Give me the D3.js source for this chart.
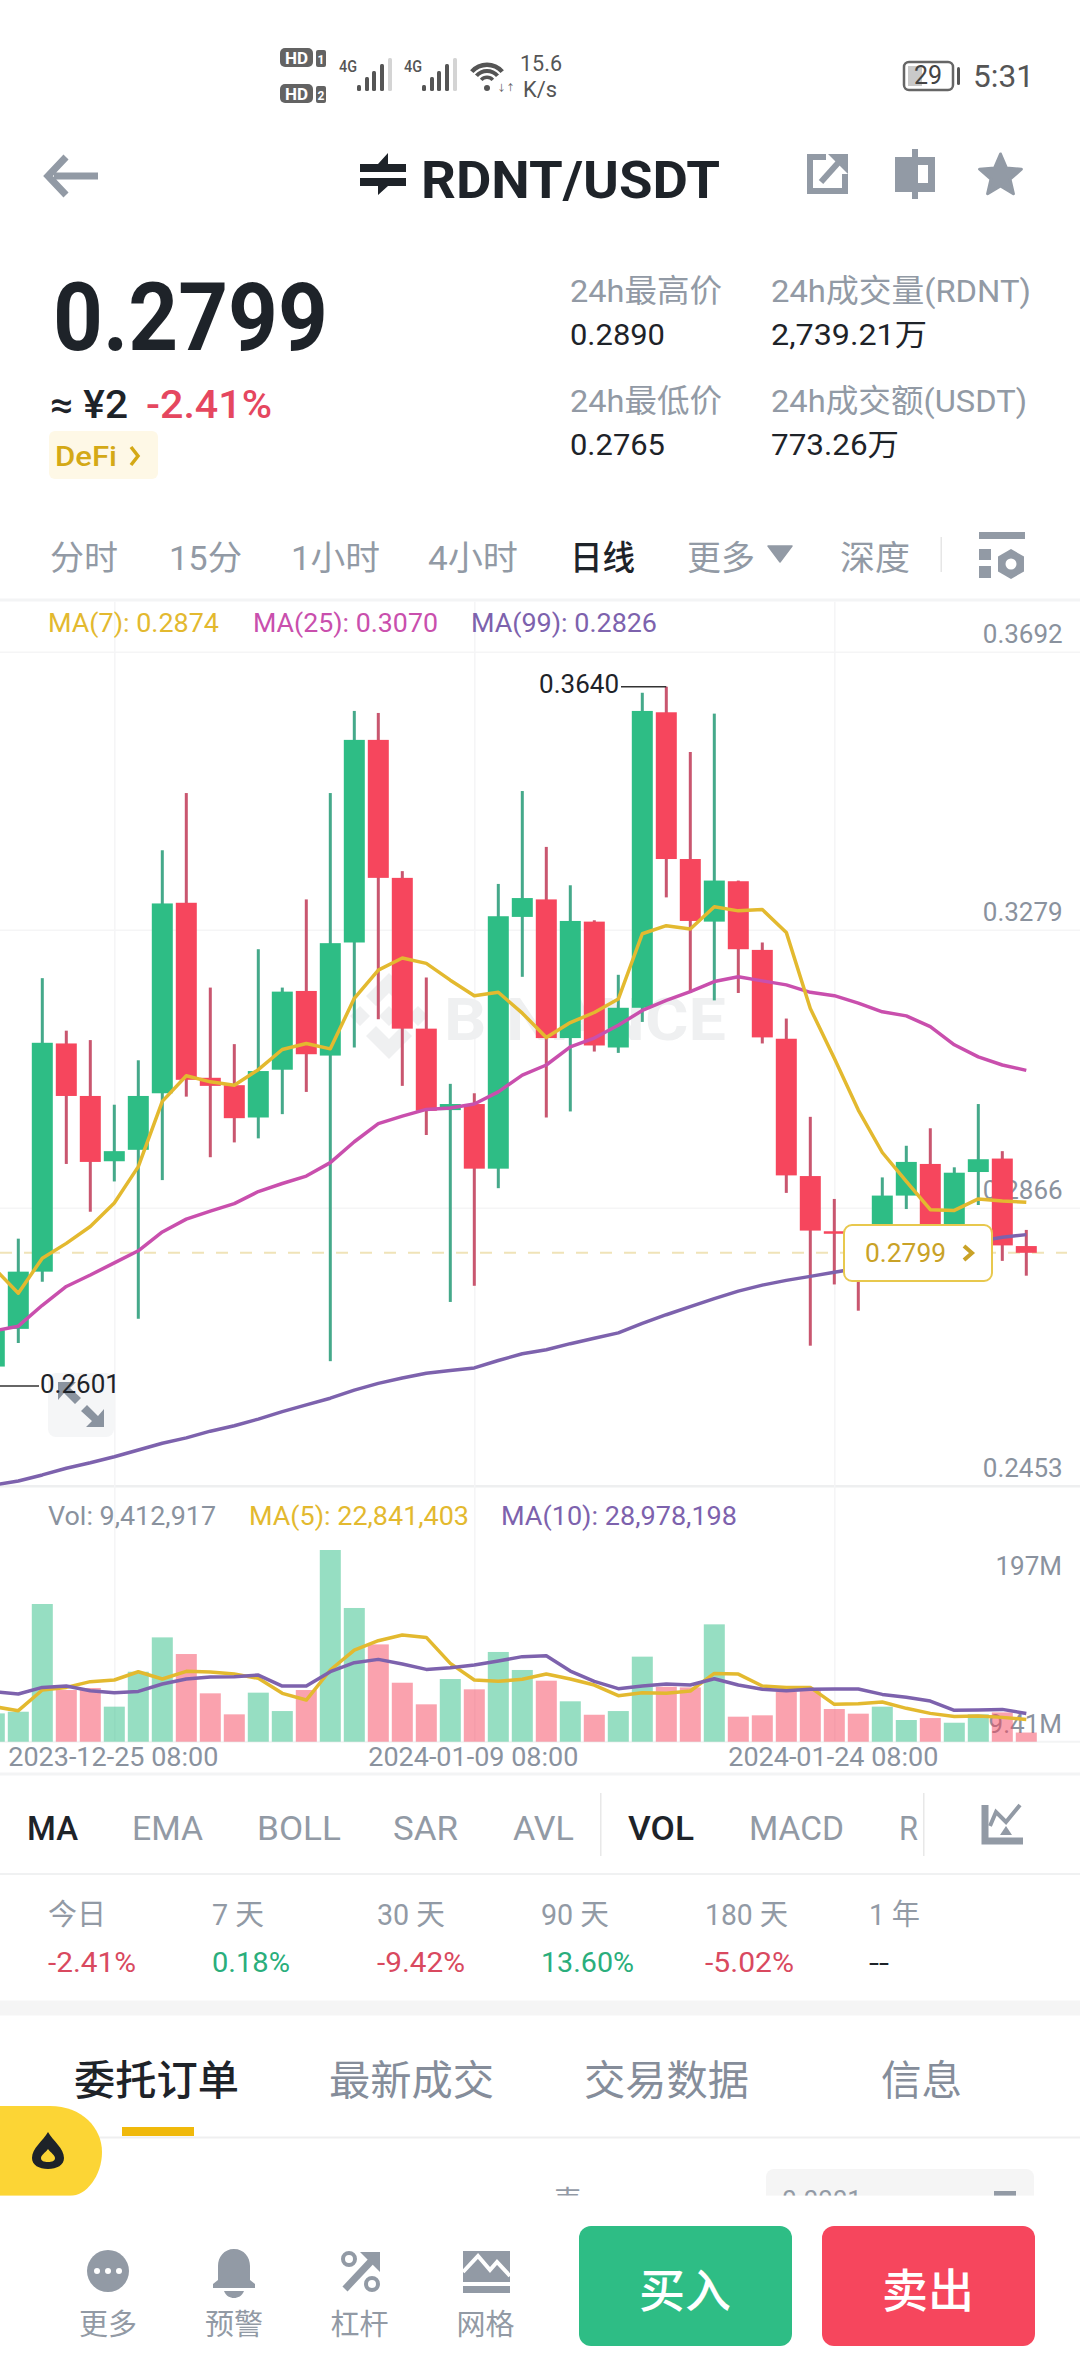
<!DOCTYPE html>
<html>
<head>
<meta charset="utf-8">
<style>
  html, body { margin: 0; padding: 0; background: #fff; }
  svg { display: block; }
  text { font-family: Roboto, "Noto Sans CJK SC", sans-serif; }
</style>
<script src="https://cdn.jsdelivr.net/npm/d3@7"></script>
</head>
<body>
<script>
// daily candles
const candleOpen = [0.2630,0.2686,0.2771,0.3110,0.3032,0.2935,0.2952,0.3036,0.3319,0.3059,0.3048,0.3000,0.3071,0.3188,0.3092,0.3260,0.3561,0.3356,0.3132,0.3011,0.3020,0.2924,0.3298,0.3324,0.3118,0.3291,0.3104,0.3163,0.3602,0.3384,0.3291,0.3351,0.3249,0.3117,0.2913,0.2831,0.2829,0.2774,0.2884,0.2931,0.2811,0.2919,0.2939,0.2809];
const candleHigh = [0.2700,0.2820,0.3207,0.3129,0.3115,0.3019,0.3085,0.3397,0.3482,0.3193,0.3109,0.3250,0.3193,0.3324,0.3482,0.3604,0.3601,0.3366,0.3208,0.3050,0.3036,0.3347,0.3485,0.3402,0.3345,0.3293,0.3212,0.3631,0.3640,0.3543,0.3600,0.3352,0.3260,0.3147,0.3001,0.2879,0.2830,0.2911,0.2958,0.2984,0.2926,0.3020,0.2950,0.2833];
const candleLow = [0.2601,0.2665,0.2756,0.2931,0.2860,0.2905,0.2701,0.2907,0.3031,0.2941,0.2963,0.2969,0.3005,0.3038,0.2638,0.3104,0.3146,0.3047,0.2974,0.2726,0.2750,0.2895,0.3209,0.3000,0.3009,0.3098,0.3096,0.3142,0.3327,0.3185,0.3174,0.3185,0.3110,0.2888,0.2661,0.2752,0.2713,0.2772,0.2864,0.2803,0.2803,0.2870,0.2787,0.2765];
const candleClose = [0.2684,0.2771,0.3111,0.3032,0.2934,0.2950,0.3032,0.3318,0.3056,0.3047,0.2999,0.3069,0.3187,0.3094,0.3259,0.3561,0.3356,0.3132,0.3010,0.3020,0.2924,0.3299,0.3326,0.3118,0.3292,0.3107,0.3163,0.3604,0.3384,0.3292,0.3352,0.3250,0.3119,0.2914,0.2832,0.2828,0.2774,0.2884,0.2934,0.2811,0.2918,0.2938,0.2810,0.2799];

const ma7 = [0.2776,0.2739,0.2791,0.2813,0.2838,0.2873,0.2927,0.3024,0.3062,0.3053,0.3048,0.3071,0.3101,0.3110,0.3102,0.3177,0.3219,0.3237,0.3229,0.3204,0.3181,0.3186,0.3155,0.3119,0.3141,0.3156,0.3176,0.3273,0.3285,0.3280,0.3313,0.3307,0.3309,0.3275,0.3162,0.3088,0.3011,0.2948,0.2905,0.2863,0.2862,0.2879,0.2876,0.2874];
const ma25 = [0.2683,0.2690,0.2721,0.2749,0.2766,0.2784,0.2802,0.2830,0.2849,0.2861,0.2872,0.2890,0.2902,0.2913,0.2933,0.2964,0.2991,0.3002,0.3012,0.3014,0.3020,0.3038,0.3063,0.3078,0.3105,0.3118,0.3137,0.3159,0.3174,0.3187,0.3202,0.3209,0.3203,0.3197,0.3186,0.3181,0.3170,0.3157,0.3151,0.3135,0.3108,0.3090,0.3078,0.3070];
const ma99 = [0.2454,0.2460,0.2469,0.2479,0.2487,0.2496,0.2506,0.2516,0.2524,0.2534,0.2542,0.2552,0.2563,0.2573,0.2583,0.2595,0.2605,0.2613,0.2620,0.2624,0.2628,0.2639,0.2649,0.2655,0.2664,0.2672,0.2680,0.2694,0.2707,0.2719,0.2731,0.2742,0.2751,0.2758,0.2764,0.2770,0.2776,0.2784,0.2793,0.2802,0.2810,0.2816,0.2822,0.2826];

// volume in millions
const volume = [29.1,30.8,141.5,53.1,55.2,36,71.9,107.2,90.1,49.7,28.1,50.4,31.5,53.1,197,137.4,100,60.6,38.4,64.4,53.8,92.2,73.7,62.7,41.5,27.7,31.5,87.4,56.5,55.8,120.6,25.7,27.1,51.4,53.1,33.6,28.8,36,22.3,24.3,19.5,28.1,30.1,9.41];
const volMa5 = [36,31.9,53.1,55.8,61.7,63.4,71.9,64.4,72.3,71.6,69.5,65.1,49.7,42.8,73.7,94.2,103.8,109.6,107.2,80.5,63.4,62,64.1,69.5,64.4,58.2,47.3,50.4,49.7,52.1,70.2,69.5,57.2,55.8,55.8,38.4,39.1,40.8,34.3,29.1,26,26.4,25,22.84];
const volMa10 = [51.4,49,55.8,57.2,52.4,50.4,51.7,59.3,64.4,66.5,66.8,68.5,57.2,57.2,71.9,81.2,84.6,79.8,74.3,76.1,78.8,82.9,87.4,88.4,72.6,62,54.5,57.2,59.3,58.2,64.7,58.2,53.8,52.4,53.8,54.1,54.1,48.6,45.6,41.8,32.2,32.5,33.2,28.98];

const priceTicks = [0.3692, 0.3279, 0.2866, 0.2453];
const volTicks = [197, 9.41];
const dateTickIndex = [5, 20, 35];
const dateTickLabels = ["2023-12-25 08:00", "2024-01-09 08:00", "2024-01-24 08:00"];
const lastPrice = 0.2799;
const highMark = { index: 28, price: 0.3640 };
const lowMark = { index: 0, price: 0.2601 };

const periodTabs = ["分时", "15分", "1小时", "4小时", "日线", "更多", "深度"];
const indicatorTabs = ["MA", "EMA", "BOLL", "SAR", "AVL", "VOL", "MACD", "R"];
const changeLabels = ["今日", "7 天", "30 天", "90 天", "180 天", "1 年"];
const changeValues = ["-2.41%", "0.18%", "-9.42%", "13.60%", "-5.02%", "--"];
const infoTabs = ["委托订单", "最新成交", "交易数据", "信息"];
const navLabels = ["更多", "预警", "杠杆", "网格"];

const GREEN = "#2ebd85", RED = "#f6465d", GRAY = "#929aa5", DARK = "#1e2329";
const YELLOW = "#e3b92f", MAGENTA = "#c94fad", PURPLE = "#7d62ad";

const svg = d3.select("body").append("svg").attr("width", 1080).attr("height", 2376);
svg.append("rect").attr("width", 1080).attr("height", 2376).attr("fill", "#fff");

function label(x, y, str, size, color, opts) {
  opts = opts || {};
  const t = svg.append("text").attr("x", x).attr("y", y).text(str)
    .attr("font-size", size).attr("fill", color)
    .attr("font-weight", opts.weight || 400)
    .attr("text-anchor", opts.anchor || "start");
  if (opts.w) t.attr("textLength", opts.w).attr("lengthAdjust", "spacingAndGlyphs");
  return t;
}

// scales
const x = d3.scaleLinear().domain([0, 43]).range([-5.7, 1026.3]);
const yPrice = d3.scaleLinear().domain([0.2453, 0.3692]).range([1485.7, 651.7]);
const yVol = d3.scaleLinear().domain([0, 197]).range([1741.7, 1550]);
const bodyW = 21, wickW = 3;

// ---- status bar
[[48, "1"], [84, "2"]].forEach(function (d) {
  svg.append("rect").attr("x", 280).attr("y", d[0]).attr("width", 33).attr("height", 19).attr("rx", 5).attr("fill", "#636363");
  label(296.5, d[0] + 15.5, "HD", 17, "#fff", { weight: 700, anchor: "middle" });
  svg.append("rect").attr("x", 316).attr("y", d[0] + 2).attr("width", 10).attr("height", 17).attr("rx", 2).attr("fill", "#636363");
  label(321, d[0] + 15.5, d[1], 12, "#fff", { weight: 700, anchor: "middle" });
});
[339, 404].forEach(function (x0) {
  label(x0, 72, "4G", 16, "#555", { weight: 500, w: 18 });
  [[20, 85], [28, 77], [35, 71], [43, 64], [51, 58]].forEach(function (b, i) {
    svg.append("rect").attr("x", x0 + b[0] - 2).attr("y", b[1]).attr("width", 4).attr("height", 91 - b[1])
      .attr("rx", 1.5).attr("fill", i == 4 ? "#d4d4d4" : "#555");
  });
});
[[18, 4.5], [12, 4], [6, 3.5]].forEach(function (a) {
  svg.append("path").attr("d", d3.arc()({ innerRadius: a[0], outerRadius: a[0] + a[1], startAngle: -0.85, endAngle: 0.85 }))
    .attr("transform", "translate(487,85)").attr("fill", "#555");
});
svg.append("circle").attr("cx", 487).attr("cy", 88).attr("r", 3).attr("fill", "#555");
label(497, 91, "↓↑", 9, "#555");
label(520, 71, "15.6", 22, "#555", { w: 42 });
label(523, 97, "K/s", 22, "#555", { w: 34 });

svg.append("rect").attr("x", 904).attr("y", 62).attr("width", 49).attr("height", 28).attr("rx", 5).attr("fill", "none").attr("stroke", "#666").attr("stroke-width", 2.5);
svg.append("rect").attr("x", 908).attr("y", 66).attr("width", 14).attr("height", 20).attr("fill", "#c9c9c9");
label(928, 84, "29", 25, "#444", { anchor: "middle" });
svg.append("rect").attr("x", 957).attr("y", 67).attr("width", 3).attr("height", 18).attr("rx", 1.5).attr("fill", "#555");
label(973, 87, "5:31", 32, "#555", { w: 61 });

// ---- title row
svg.append("path").attr("d", "M98 176 H54 M66 157 L48 176 L66 195").attr("fill", "none").attr("stroke", GRAY).attr("stroke-width", 7);
svg.append("path").attr("d", "M360 164 H378 L388 153 V164 H406 V172 H360 Z M360 178 H406 V186 H388 L378 195 V186 H360 Z").attr("fill", DARK);
label(421, 198, "RDNT/USDT", 52, DARK, { weight: 700, w: 299 });
svg.append("path").attr("d", "M826 157 H810 V191 H845 V174").attr("fill", "none").attr("stroke", GRAY).attr("stroke-width", 6);
svg.append("path").attr("d", "M821 182 L838 163").attr("fill", "none").attr("stroke", GRAY).attr("stroke-width", 6);
svg.append("path").attr("d", "M828 154 H848 V174 Z").attr("fill", GRAY);
svg.append("rect").attr("x", 912).attr("y", 149).attr("width", 6).attr("height", 50).attr("fill", GRAY);
svg.append("rect").attr("x", 895).attr("y", 157).attr("width", 40).attr("height", 35).attr("fill", GRAY);
svg.append("rect").attr("x", 918).attr("y", 165).attr("width", 10).attr("height", 18).attr("fill", "#fff");
const starPts = d3.range(10).map(function (i) {
  const r = i % 2 ? 10 : 22, a = i * Math.PI / 5;
  return [1000.5 + r * Math.sin(a), 176 - r * Math.cos(a)];
});
svg.append("path").attr("d", d3.line()(starPts) + "Z").attr("fill", GRAY).attr("stroke", GRAY).attr("stroke-width", 3).attr("stroke-linejoin", "round");

// ---- price block
label(53, 350, "0.2799", 95, DARK, { weight: 700, w: 275 });
label(50, 418, "≈ ¥2", 38, DARK, { weight: 500, w: 78 });
label(146, 418, "-2.41%", 38, "#e5475f", { weight: 500, w: 126 });
svg.append("rect").attr("x", 49).attr("y", 431).attr("width", 109).attr("height", 48).attr("rx", 6).attr("fill", "#fef8e6");
label(55, 466, "DeFi", 28, "#d4a916", { weight: 500, w: 62 });
svg.append("path").attr("d", "M131 447 L138 456 L131 465").attr("fill", "none").attr("stroke", "#d4a916").attr("stroke-width", 3.5);

label(570, 302, "24h最高价", 32, GRAY, { w: 152 });
label(771, 302, "24h成交量(RDNT)", 32, GRAY, { w: 260 });
label(570, 345, "0.2890", 30, DARK, { w: 95 });
label(771, 345, "2,739.21万", 30, DARK, { w: 156 });
label(570, 412, "24h最低价", 32, GRAY, { w: 152 });
label(771, 412, "24h成交额(USDT)", 32, GRAY, { w: 256 });
label(570, 455, "0.2765", 30, DARK, { w: 95 });
label(771, 455, "773.26万", 30, DARK, { w: 128 });

// ---- period tabs
const periodX = [50, 169, 291, 428, 570, 687, 840];
const periodW = [68, 73, 89, 90, 65, 68, 70];
periodTabs.forEach(function (d, i) {
  label(periodX[i], 570, d, 34, i == 4 ? DARK : GRAY, { w: periodW[i], weight: i == 4 ? 500 : 400 });
});
svg.append("path").attr("d", "M768 546 H792 L780 562 Z").attr("fill", GRAY).attr("stroke", GRAY).attr("stroke-width", 1.5).attr("stroke-linejoin", "round");
svg.append("rect").attr("x", 940.5).attr("y", 537).attr("width", 1.5).attr("height", 35).attr("fill", "#e6e6e6");
svg.append("rect").attr("x", 979).attr("y", 532).attr("width", 46).attr("height", 7).attr("fill", GRAY);
svg.append("rect").attr("x", 979).attr("y", 549).attr("width", 12).attr("height", 11).attr("fill", GRAY);
svg.append("rect").attr("x", 979).attr("y", 566).attr("width", 12).attr("height", 12).attr("fill", GRAY);
const hexPts = d3.range(6).map(function (i) {
  const a = i * Math.PI / 3;
  return [1011 + 15 * Math.sin(a), 564 - 15 * Math.cos(a)];
});
svg.append("path").attr("d", d3.line()(hexPts) + "Z").attr("fill", GRAY);
svg.append("circle").attr("cx", 1011).attr("cy", 564).attr("r", 5.5).attr("fill", "#fff");

// ---- chart frame
const frame = svg.append("g").attr("stroke", "#f3f4f5");
frame.append("line").attr("x1", 0).attr("x2", 1080).attr("y1", 600).attr("y2", 600).attr("stroke-width", 3);
frame.append("line").attr("x1", 0).attr("x2", 1080).attr("y1", 1741.7).attr("y2", 1741.7).attr("stroke-width", 2);
frame.append("line").attr("x1", 0).attr("x2", 1080).attr("y1", 1774).attr("y2", 1774).attr("stroke-width", 3);

// price axis, its ticks double as the horizontal grid
const priceAxis = d3.axisLeft(yPrice).tickValues(priceTicks).tickSize(1080).tickFormat(d3.format(".4f"));
const priceG = svg.append("g").attr("transform", "translate(1080,0)").call(priceAxis);
priceG.select(".domain").remove();
priceG.selectAll("line").attr("stroke", "#f5f5f6").attr("stroke-width", 1.5);
priceG.selectAll("g.tick").filter(function (d) { return d == 0.2453; }).select("line").attr("stroke", "#eeeff0").attr("stroke-width", 2.5);
priceG.selectAll("text").attr("x", -17.3).attr("y", -18.5).attr("dy", "0.355em").attr("font-size", 26).attr("fill", "#8a929e").style("font-family", "Roboto");

// date axis, ticks double as the vertical grid
const dateAxis = d3.axisBottom(x).tickValues(dateTickIndex).tickSize(-1140)
  .tickFormat(function (d, i) { return dateTickLabels[i]; });
const dateG = svg.append("g").attr("transform", "translate(0,1741.7)").call(dateAxis);
dateG.select(".domain").remove();
dateG.selectAll("line").attr("stroke", "#f5f5f6").attr("stroke-width", 1.5);
dateG.selectAll("text").attr("y", 15).attr("dx", -1.5).attr("dy", "0.355em").attr("font-size", 25).attr("fill", "#8a929e")
  .attr("textLength", 210).attr("lengthAdjust", "spacingAndGlyphs").style("font-family", "Roboto");

// volume axis, labels only
const volAxis = d3.axisLeft(yVol).tickValues(volTicks).tickSize(0)
  .tickFormat(function (d) { return d + "M"; });
const volG = svg.append("g").attr("transform", "translate(1062,0)").call(volAxis);
volG.select(".domain").remove();
volG.selectAll("text").attr("x", 0).attr("y", function (d) { return d == 197 ? 15 : -9.5; })
  .attr("dy", "0.355em").attr("font-size", 26).attr("fill", "#8a929e").style("font-family", "Roboto");

// legends
label(48, 631.5, "MA(7): 0.2874", 26, YELLOW, { w: 171 });
label(253, 631.5, "MA(25): 0.3070", 26, MAGENTA, { w: 185 });
label(471, 631.5, "MA(99): 0.2826", 26, PURPLE, { w: 186 });
label(48, 1525, "Vol: 9,412,917", 26, "#8a929e", { w: 168 });
label(249, 1525, "MA(5): 22,841,403", 26, YELLOW, { w: 220 });
label(501, 1525, "MA(10): 28,978,198", 26, PURPLE, { w: 236 });

// watermark
const wm = svg.append("g").attr("fill", "#eff0f1");
wm.append("path").attr("d", "M389 973 L412 996 L402 1006 L389 993 L376 1006 L366 996 Z M360 1006 L370 1016 L360 1026 L350 1016 Z M418 1006 L428 1016 L418 1026 L408 1016 Z M389 1006 L399 1016 L389 1026 L379 1016 Z M389 1059 L366 1036 L376 1026 L389 1039 L402 1026 L412 1036 Z");
wm.append("text").attr("x", 444).attr("y", 1040).attr("font-size", 59).attr("font-weight", 700)
  .attr("textLength", 282).attr("lengthAdjust", "spacingAndGlyphs").text("BINANCE");

// last price dashed line
svg.append("line").attr("x1", 0).attr("x2", 1067).attr("y1", yPrice(lastPrice)).attr("y2", yPrice(lastPrice))
  .attr("stroke", "#f0e3b8").attr("stroke-width", 2).attr("stroke-dasharray", "12 12");

// expand button sits under the low label
svg.append("rect").attr("x", 48).attr("y", 1373).attr("width", 66).attr("height", 64).attr("rx", 8).attr("fill", "#f5f6f7");
svg.append("path").attr("d", "M58 1382 H76 L70 1388 L81 1398 L75 1404 L64 1393 L58 1400 Z M104 1427 H86 L92 1421 L81 1411 L87 1405 L98 1416 L104 1409 Z").attr("fill", "#8a939f");

// candles
const idx = d3.range(candleOpen.length);
function up(i) { return candleClose[i] >= candleOpen[i]; }
svg.append("g").selectAll("rect").data(idx).join("rect")
  .attr("x", function (i) { return x(i) - wickW / 2; })
  .attr("width", wickW)
  .attr("y", function (i) { return yPrice(candleHigh[i]); })
  .attr("height", function (i) { return yPrice(candleLow[i]) - yPrice(candleHigh[i]); })
  .attr("fill", function (i) { return up(i) ? "#45a98a" : "#c9566f"; });
svg.append("g").selectAll("rect").data(idx).join("rect")
  .attr("x", function (i) { return x(i) - bodyW / 2; })
  .attr("width", bodyW)
  .attr("y", function (i) { return yPrice(Math.max(candleOpen[i], candleClose[i])); })
  .attr("height", function (i) { return Math.max(2.5, Math.abs(yPrice(candleOpen[i]) - yPrice(candleClose[i]))); })
  .attr("fill", function (i) { return up(i) ? GREEN : RED; });

// price moving averages
const priceLine = d3.line().x(function (d, i) { return x(i); }).y(function (d) { return yPrice(d); });
[[ma99, PURPLE], [ma25, MAGENTA], [ma7, YELLOW]].forEach(function (s) {
  svg.append("path").attr("d", priceLine(s[0])).attr("fill", "none").attr("stroke", s[1]).attr("stroke-width", 3.5).attr("stroke-linejoin", "round");
});

// high / low markers
svg.append("line").attr("x1", 621).attr("x2", x(highMark.index)).attr("y1", yPrice(highMark.price)).attr("y2", yPrice(highMark.price)).attr("stroke", "#333").attr("stroke-width", 1.5);
label(619, 693, d3.format(".4f")(highMark.price), 26, DARK, { anchor: "end" });
svg.append("line").attr("x1", x(lowMark.index)).attr("x2", 39).attr("y1", yPrice(lowMark.price)).attr("y2", yPrice(lowMark.price)).attr("stroke", "#333").attr("stroke-width", 1.5);
label(40, 1393, d3.format(".4f")(lowMark.price), 26, DARK);

// last price tag
svg.append("rect").attr("x", 844).attr("y", 1225).attr("width", 148).attr("height", 56).attr("rx", 8)
  .attr("fill", "#fff").attr("stroke", "#e8c84e").attr("stroke-width", 2);
label(865, yPrice(lastPrice) + 9.5, d3.format(".4f")(lastPrice), 26, "#c9a227", { w: 81 });
svg.append("path").attr("d", "M964 1246 L972 1253 L964 1260").attr("fill", "none").attr("stroke", "#c9a227").attr("stroke-width", 4);

// volume bars
svg.append("g").selectAll("rect").data(idx).join("rect")
  .attr("x", function (i) { return x(i) - bodyW / 2; })
  .attr("width", bodyW)
  .attr("y", function (i) { return yVol(volume[i]); })
  .attr("height", function (i) { return yVol(0) - yVol(volume[i]); })
  .attr("fill", function (i) { return up(i) ? GREEN : RED; })
  .attr("fill-opacity", 0.5);
const volLine = d3.line().x(function (d, i) { return x(i); }).y(function (d) { return yVol(d); });
[[volMa5, YELLOW], [volMa10, PURPLE]].forEach(function (s) {
  svg.append("path").attr("d", volLine(s[0])).attr("fill", "none").attr("stroke", s[1]).attr("stroke-width", 3.5).attr("stroke-linejoin", "round");
});

// ---- indicator tabs
const indicatorX = [27, 132, 257, 393, 513, 628, 749, 899];
const indicatorW = [51, 71, 84, 65, 61, 66, 95, 19];
indicatorTabs.forEach(function (d, i) {
  const on = d == "MA" || d == "VOL";
  label(indicatorX[i], 1839.5, d, 33, on ? DARK : GRAY, { w: indicatorW[i], weight: on ? 500 : 400 });
});
[600, 923].forEach(function (dx) {
  svg.append("rect").attr("x", dx).attr("y", 1793).attr("width", 1.5).attr("height", 63).attr("fill", "#e8e8e8");
});
svg.append("path").attr("d", "M985 1805 V1841 H1023").attr("fill", "none").attr("stroke", GRAY).attr("stroke-width", 7);
svg.append("path").attr("d", "M990 1826 L996 1812 L1006 1822 L1020 1805").attr("fill", "none").attr("stroke", GRAY).attr("stroke-width", 4);
svg.append("path").attr("d", "M1000 1835 L1006 1826 L1012 1835 Z").attr("fill", GRAY);
svg.append("rect").attr("y", 1873).attr("width", 1080).attr("height", 2).attr("fill", "#f0f1f2");

// ---- period change table
const changeX = [48, 212, 377, 541, 705, 869];
const changeLabelW = [58, 52, 68, 68, 83, 51];
const changeValueW = [88, 78, 88, 93, 89, 20];
changeLabels.forEach(function (d, i) {
  label(changeX[i], 1925, d, 29, GRAY, { w: changeLabelW[i] });
});
changeValues.forEach(function (d, i) {
  const c = d == "--" ? DARK : d.charAt(0) == "-" ? "#d9495f" : "#2aae7c";
  label(changeX[i], 1972, d, 27, c, { w: changeValueW[i] });
});
svg.append("rect").attr("y", 2000.5).attr("width", 1080).attr("height", 15).attr("fill", "#f5f5f5");

// ---- info tabs
const infoX = [74, 329, 584, 881];
const infoW = [165, 165, 165, 81];
infoTabs.forEach(function (d, i) {
  label(infoX[i], 2095, d, 41, i == 0 ? DARK : "#858d9a", { w: infoW[i], weight: i == 0 ? 500 : 400 });
});
svg.append("rect").attr("x", 122).attr("y", 2127).attr("width", 72).attr("height", 9).attr("fill", "#f0b90b");
svg.append("rect").attr("y", 2136.5).attr("width", 1080).attr("height", 2).attr("fill", "#efeff0");

// list header cut off by the bottom bar
label(553, 2212, "表", 29, GRAY);
svg.append("rect").attr("x", 766).attr("y", 2169).attr("width", 268).attr("height", 60).attr("rx", 8).attr("fill", "#f5f5f5");
label(782, 2209, "0.0001", 26, GRAY, { w: 80 });
svg.append("rect").attr("x", 994).attr("y", 2191).attr("width", 22).attr("height", 12).attr("fill", GRAY);

// floating bubble
svg.append("path").attr("d", "M0 2106 H50 C82 2106 102 2128 102 2152 C102 2176 86 2196 70 2196 H0 Z").attr("fill", "#fcd535");
svg.append("path").attr("fill-rule", "evenodd").attr("fill", DARK)
  .attr("d", "M48 2132 C53 2141 64 2148 64 2158 C64 2165 57 2169 48 2169 C39 2169 32 2165 32 2158 C32 2148 43 2141 48 2132 Z M48 2149 C45 2153 41 2155 41 2158 C41 2161 44 2162 48 2162 C52 2162 55 2161 55 2158 C55 2155 51 2153 48 2149 Z");

// ---- bottom bar
svg.append("rect").attr("y", 2195.6).attr("width", 1080).attr("height", 181).attr("fill", "#fff");
const navX = [108, 234, 359.5, 485.5];
navLabels.forEach(function (d, i) {
  label(navX[i], 2335, d, 29, GRAY, { anchor: "middle" });
});
svg.append("circle").attr("cx", 108).attr("cy", 2271).attr("r", 21).attr("fill", GRAY);
[97, 108, 119].forEach(function (cx) {
  svg.append("circle").attr("cx", cx).attr("cy", 2271).attr("r", 3).attr("fill", "#fff");
});
svg.append("path").attr("fill", GRAY).attr("d", "M234 2249 C224 2249 218 2257 218 2266 V2280 L213 2284 V2288 H255 V2284 L250 2280 V2266 C250 2257 244 2249 234 2249 Z M224 2291 H244 C242 2296 238 2298 234 2298 C230 2298 226 2296 224 2291 Z");
svg.append("path").attr("d", "M345 2289 L376 2256").attr("stroke", GRAY).attr("stroke-width", 7).attr("fill", "none");
svg.append("path").attr("d", "M360 2252 H380 V2272 Z").attr("fill", GRAY);
svg.append("circle").attr("cx", 349).attr("cy", 2259).attr("r", 6).attr("fill", "none").attr("stroke", GRAY).attr("stroke-width", 4);
svg.append("circle").attr("cx", 372).attr("cy", 2284).attr("r", 6).attr("fill", "none").attr("stroke", GRAY).attr("stroke-width", 4);
svg.append("path").attr("d", "M463 2251 H510 V2282 H463 Z").attr("fill", GRAY);
svg.append("path").attr("d", "M463 2272 L478 2256 L490 2270 L497 2262 L510 2276").attr("fill", "none").attr("stroke", "#fff").attr("stroke-width", 4);
svg.append("rect").attr("x", 463).attr("y", 2286).attr("width", 47).attr("height", 7).attr("fill", GRAY);

svg.append("rect").attr("x", 579).attr("y", 2226).attr("width", 213).attr("height", 120).attr("rx", 12).attr("fill", GREEN);
svg.append("rect").attr("x", 822).attr("y", 2226).attr("width", 213).attr("height", 120).attr("rx", 12).attr("fill", RED);
label(685, 2307, "买入", 46, "#fff", { anchor: "middle", weight: 500 });
label(928, 2307, "卖出", 46, "#fff", { anchor: "middle", weight: 500 });
</script>
</body>
</html>
